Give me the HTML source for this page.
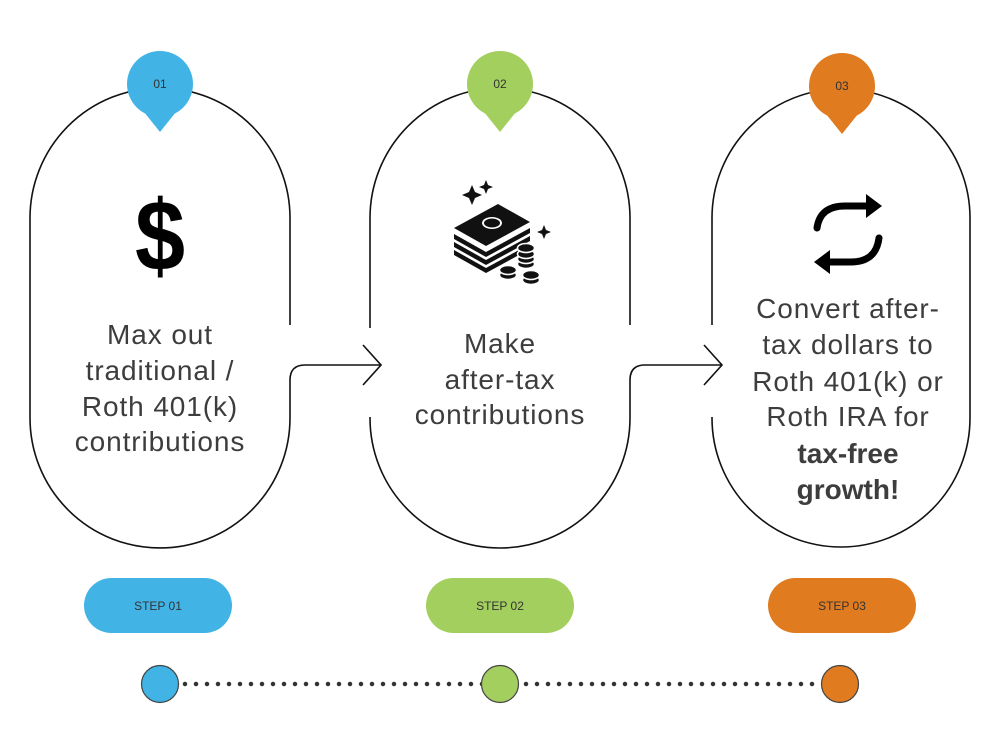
<!DOCTYPE html>
<html><head><style>
html,body{margin:0;padding:0;background:#fff}
svg{display:block}
text{font-family:"Liberation Sans",sans-serif}
</style></head><body>
<svg width="1000" height="740" viewBox="0 0 1000 740" xmlns="http://www.w3.org/2000/svg">
<g fill="none" stroke="#111" stroke-width="1.6">
<path d="M290,325 V218 A130,130 0 0 0 30,218 V418 A130,130 0 0 0 290,418 V383"/>
<path d="M290,383 V380 Q290,365 305,365 H381"/>
<path d="M363,345 L381,365 L363,385"/>
<path d="M370,328 V218 A130,130 0 0 1 630,218 V325"/>
<path d="M370,417 V418 A130,130 0 0 0 630,418 V383"/>
<path d="M630,383 V380 Q630,365 645,365 H722"/>
<path d="M704,345 L722,365 L704,385"/>
<path d="M712,325 V218 A129,129 0 0 1 970,218 V418 A129,129 0 0 1 712,418 V417"/>
</g>
<g>
<circle cx="160" cy="84" r="33" fill="#41b4e5"/><path d="M144,112 L160,132 L176,112Z" fill="#41b4e5"/>
<circle cx="500" cy="84" r="33" fill="#a3cf5f"/><path d="M484,112 L500,132 L516,112Z" fill="#a3cf5f"/>
<circle cx="842" cy="86" r="33" fill="#e07b1f"/><path d="M826,114 L842,134 L858,114Z" fill="#e07b1f"/>
</g>
<g font-size="12" fill="#333" text-anchor="middle">
<text x="160" y="88">01</text><text x="500" y="88">02</text><text x="842" y="90">03</text>
</g>
<text x="160" y="270" font-size="100" font-weight="bold" text-anchor="middle" fill="#000" transform="translate(160 0) scale(0.9 1) translate(-160 0)">$</text>
<g fill="#111">
<path d="M454,228 L498,204 L530,222 L486,246Z"/>
<path d="M454,234 L486,252 L530,228 V233 L486,257 L454,239Z"/>
<path d="M454,242 L486,260 L530,236 V241 L486,265 L454,247Z"/>
<path d="M454,250 L486,268 L530,244 V249 L486,273 L454,255Z"/>
<ellipse cx="492" cy="223" rx="10" ry="6" fill="#fff"/>
<ellipse cx="492" cy="223" rx="8" ry="4.5"/>
<path d="M472,185 l3,7 7,3 -7,3 -3,7 -3,-7 -7,-3 7,-3Z"/>
<path d="M486,180 l2,5 5,2 -5,2 -2,5 -2,-5 -5,-2 5,-2Z"/>
<path d="M544,225 l2,5 5,2 -5,2 -2,5 -2,-5 -5,-2 5,-2Z"/>
</g>
<g fill="#111" stroke="#fff" stroke-width="1.5">
<ellipse cx="526" cy="264" rx="8.5" ry="4.5"/><ellipse cx="526" cy="259" rx="8.5" ry="4.5"/><ellipse cx="526" cy="254" rx="8.5" ry="4.5"/><ellipse cx="526" cy="248" rx="8.5" ry="4.5"/>
<ellipse cx="508" cy="275" rx="8.5" ry="4.5"/><ellipse cx="508" cy="270" rx="8.5" ry="4.5"/>
<ellipse cx="531" cy="280" rx="8.5" ry="4.5"/><ellipse cx="531" cy="275" rx="8.5" ry="4.5"/>
</g>
<g fill="none" stroke="#000" stroke-width="7" stroke-linecap="round">
<path d="M817,228 Q820,206 845,206 H872"/>
<path d="M879,238 Q876,262 851,262 H824"/>
</g>
<g fill="#000">
<path d="M866,194 L882,206 L866,218Z"/>
<path d="M830,250 L814,262 L830,274Z"/>
</g>
<g font-size="28" fill="#3d3d3d" text-anchor="middle" letter-spacing="0.9">
<text x="160" y="344">Max out</text>
<text x="160" y="380">traditional /</text>
<text x="160" y="416">Roth 401(k)</text>
<text x="160" y="451">contributions</text>
<text x="500" y="353">Make</text>
<text x="500" y="389">after-tax</text>
<text x="500" y="424">contributions</text>
<text x="848" y="318">Convert after-</text>
<text x="848" y="354">tax dollars to</text>
<text x="848" y="391">Roth 401(k) or</text>
<text x="848" y="426">Roth IRA for</text>
<text x="848" y="463" font-weight="bold" letter-spacing="0">tax-free</text>
<text x="848" y="499" font-weight="bold" letter-spacing="0">growth!</text>
</g>
<rect x="84" y="578" width="148" height="55" rx="27.5" fill="#41b4e5"/>
<rect x="426" y="578" width="148" height="55" rx="27.5" fill="#a3cf5f"/>
<rect x="768" y="578" width="148" height="55" rx="27.5" fill="#e07b1f"/>
<g font-size="12" fill="#333" text-anchor="middle">
<text x="158" y="610">STEP 01</text><text x="500" y="610">STEP 02</text><text x="842" y="610">STEP 03</text>
</g>
<line x1="185" y1="684" x2="815" y2="684" stroke="#333" stroke-width="4.5" stroke-linecap="round" stroke-dasharray="0 11"/>
<circle cx="160" cy="684" r="18.5" fill="#41b4e5" stroke="#444" stroke-width="1.2"/>
<circle cx="500" cy="684" r="18.5" fill="#a3cf5f" stroke="#444" stroke-width="1.2"/>
<circle cx="840" cy="684" r="18.5" fill="#e07b1f" stroke="#444" stroke-width="1.2"/>
</svg>
</body></html>
